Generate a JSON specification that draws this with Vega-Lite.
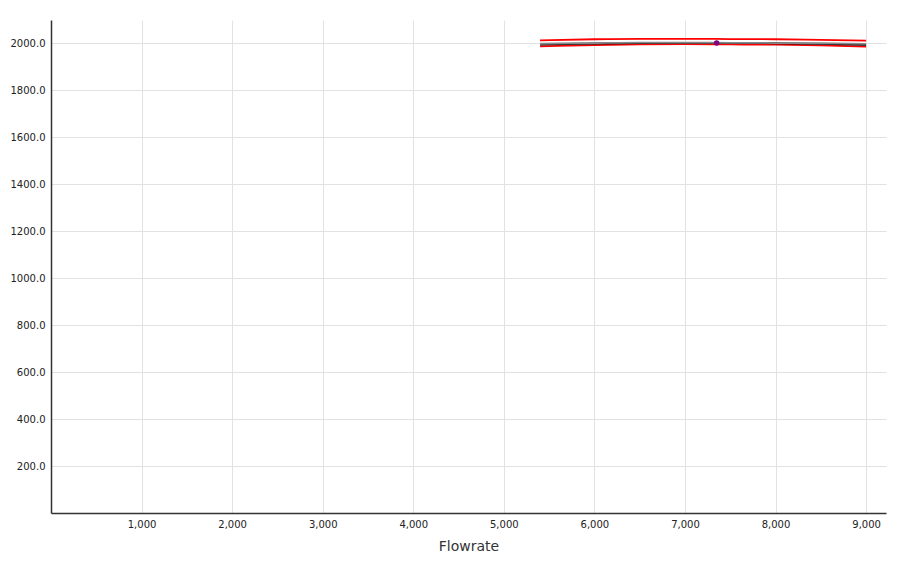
{
  "$schema": "https://vega.github.io/schema/vega-lite/v6.json",
  "width": 835,
  "height": 493,
  "autosize": "none",
  "padding": {"left": 51, "top": 20, "right": 37, "bottom": 53},
  "datasets": {
    "curves": [
      {"flow": 5400, "head": 2011, "series": "upper"},
      {"flow": 6000, "head": 2016, "series": "upper"},
      {"flow": 6500, "head": 2018, "series": "upper"},
      {"flow": 7000, "head": 2018, "series": "upper"},
      {"flow": 7500, "head": 2017, "series": "upper"},
      {"flow": 8000, "head": 2016, "series": "upper"},
      {"flow": 8500, "head": 2013, "series": "upper"},
      {"flow": 9000, "head": 2010, "series": "upper"},
      {"flow": 5400, "head": 1986, "series": "lower"},
      {"flow": 6000, "head": 1991, "series": "lower"},
      {"flow": 6500, "head": 1994, "series": "lower"},
      {"flow": 7000, "head": 1995, "series": "lower"},
      {"flow": 7500, "head": 1994, "series": "lower"},
      {"flow": 8000, "head": 1993, "series": "lower"},
      {"flow": 8500, "head": 1990, "series": "lower"},
      {"flow": 9000, "head": 1985, "series": "lower"},
      {"flow": 5400, "head": 1993, "series": "curve"},
      {"flow": 6000, "head": 1998, "series": "curve"},
      {"flow": 6500, "head": 2000, "series": "curve"},
      {"flow": 7000, "head": 2001, "series": "curve"},
      {"flow": 7500, "head": 2000, "series": "curve"},
      {"flow": 8000, "head": 1999, "series": "curve"},
      {"flow": 8500, "head": 1996, "series": "curve"},
      {"flow": 9000, "head": 1992, "series": "curve"},
      {"flow": 5400, "head": 1997, "series": "trend"},
      {"flow": 6000, "head": 2000, "series": "trend"},
      {"flow": 6500, "head": 2002, "series": "trend"},
      {"flow": 7000, "head": 2002, "series": "trend"},
      {"flow": 7500, "head": 2001, "series": "trend"},
      {"flow": 8000, "head": 2000, "series": "trend"},
      {"flow": 8500, "head": 1999, "series": "trend"},
      {"flow": 9000, "head": 1996, "series": "trend"}
    ],
    "point": [
      {"flow": 7350, "head": 2000}
    ]
  },
  "layer": [
    {
      "data": {"name": "curves"},
      "mark": {"type": "line", "strokeWidth": 1.8, "interpolate": "monotone"},
      "encoding": {
        "x": {
          "field": "flow",
          "type": "quantitative",
          "title": "Flowrate",
          "scale": {"domain": [0, 9220], "nice": false},
          "axis": {"values": [1000, 2000, 3000, 4000, 5000, 6000, 7000, 8000, 9000], "format": ",d"}
        },
        "y": {
          "field": "head",
          "type": "quantitative",
          "title": null,
          "scale": {"domain": [0, 2098], "nice": false, "zero": false},
          "axis": {"values": [200, 400, 600, 800, 1000, 1200, 1400, 1600, 1800, 2000], "format": ".1f"}
        },
        "detail": {"field": "series"},
        "color": {
          "field": "series",
          "type": "nominal",
          "legend": null,
          "scale": {"domain": ["upper", "lower", "trend", "curve"], "range": ["#ff0000", "#ff0000", "#888888", "#000000"]}
        }
      }
    },
    {
      "data": {"name": "point"},
      "mark": {"type": "point", "filled": true, "size": 30, "color": "#800080", "opacity": 1},
      "encoding": {
        "x": {"field": "flow", "type": "quantitative"},
        "y": {"field": "head", "type": "quantitative"}
      }
    }
  ],
  "config": {
    "font": "DejaVu Sans",
    "view": {"stroke": null},
    "axis": {
      "gridColor": "#e2e2e2",
      "gridWidth": 1,
      "domainColor": "#333333",
      "domainWidth": 1.5,
      "ticks": false,
      "labelFont": "DejaVu Sans",
      "labelFontSize": 10,
      "labelColor": "#222222",
      "labelPadding": 6,
      "titleFont": "DejaVu Sans",
      "titleFontSize": 14,
      "titleFontWeight": "normal",
      "titleColor": "#333333"
    },
    "axisX": {"titlePadding": 10}
  }
}
